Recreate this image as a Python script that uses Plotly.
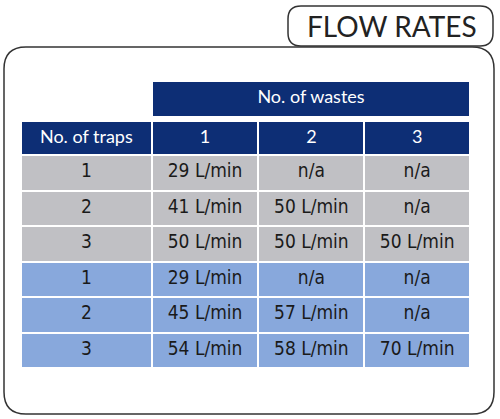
import plotly.graph_objects as go

# datos de la tabla
traps = ["1", "2", "3", "1", "2", "3"]
wastes = ["1", "2", "3"]
rate_w1 = [29, 41, 50, 29, 45, 54]
rate_w2 = [None, 50, 50, None, 57, 58]
rate_w3 = [None, None, 50, None, None, 70]
row_group = ["grey", "grey", "grey", "blue", "blue", "blue"]

W, H = 500, 419
NAVY = "#0d2e75"
GROUP_COLORS = {"grey": "#c0c0c4", "blue": "#88a8dc"}


def fmt(v):
    return "n/a" if v is None else f"{v} L/min"


def px(x):
    return x / W


def py(y):
    return 1 - y / H


def rounded_rect(x0, y0, x1, y1, r):
    # path en coordenadas paper a partir de pixeles
    rx, ry = r / W, r / H
    X0, X1, Y0, Y1 = px(x0), px(x1), py(y0), py(y1)
    return (f"M {X0 + rx},{Y0} L {X1 - rx},{Y0} Q {X1},{Y0} {X1},{Y0 - ry} "
            f"L {X1},{Y1 + ry} Q {X1},{Y1} {X1 - rx},{Y1} "
            f"L {X0 + rx},{Y1} Q {X0},{Y1} {X0},{Y1 + ry} "
            f"L {X0},{Y0 - ry} Q {X0},{Y0} {X0 + rx},{Y0} Z")


fills = [GROUP_COLORS[g] for g in row_group]
body_font = dict(family="DejaVu Sans Condensed, DejaVu Sans", size=19, color="#1a1a1a")
head_font = dict(family="Lato, sans-serif", size=18, color="white")

main_table = go.Table(
    domain=dict(x=[px(21), px(471)], y=[py(372), py(121)]),
    columnwidth=[131, 107, 106, 106],
    header=dict(
        values=["No. of traps"] + wastes,
        fill_color=NAVY,
        line=dict(color="white", width=2),
        font=head_font,
        align="center",
        height=34,
    ),
    cells=dict(
        values=[traps,
                [fmt(v) for v in rate_w1],
                [fmt(v) for v in rate_w2],
                [fmt(v) for v in rate_w3]],
        fill_color=[fills] * 4,
        line=dict(color="white", width=2),
        font=body_font,
        align="center",
        height=35.5,
    ),
)

top_table = go.Table(
    domain=dict(x=[px(152), px(471)], y=[py(121), py(81)]),
    header=dict(
        values=["No. of wastes"],
        fill_color=NAVY,
        line=dict(color="white", width=2),
        font=head_font,
        align="center",
        height=36,
    ),
    cells=dict(values=[[]]),
)

fig = go.Figure([main_table, top_table])

fig.update_layout(
    width=W,
    height=H,
    margin=dict(l=0, r=0, t=0, b=0),
    paper_bgcolor="white",
    shapes=[
        dict(type="path", xref="paper", yref="paper",
             path=rounded_rect(4, 47, 494, 414, 22),
             line=dict(color="#333333", width=1.5), layer="below"),
        dict(type="path", xref="paper", yref="paper",
             path=rounded_rect(288, 6, 493, 46, 13),
             fillcolor="white", line=dict(color="#333333", width=1.5), layer="above"),
    ],
    annotations=[
        dict(text="FLOW RATES", x=px(392), y=py(26), xref="paper", yref="paper",
             showarrow=False, xanchor="center", yanchor="middle",
             font=dict(family="Lato, sans-serif", size=28, color="#222222")),
    ],
)

# quitar el margen por defecto del body para que la figura empiece en 0,0
fig.write_html("out.html", config={"displayModeBar": False},
               post_script="document.body.style.margin='0';")
